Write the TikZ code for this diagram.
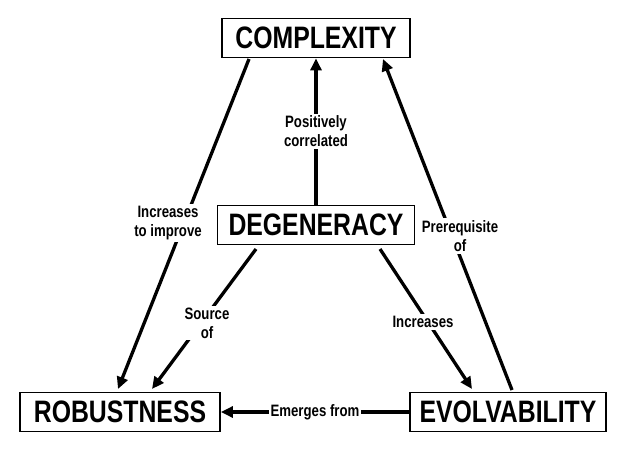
\documentclass[tikz,border=0pt]{standalone}
\usepackage{fontspec}
\newfontfamily\nar[FakeStretch=0.8]{Liberation Sans}
\usetikzlibrary{arrows.meta}
\begin{document}
\begin{tikzpicture}[x=1pt,y=-1pt,
 box/.style={draw,line width=1.8pt,fill=white,inner sep=0pt,minimum height=39pt,font=\nar\bfseries\fontsize{31}{33}\selectfont},
 lab/.style={font=\nar\bfseries\fontsize{16.5}{19}\selectfont,align=center,fill=white,inner sep=2pt},
 arr/.style={line width=3.3pt,-{Triangle[length=12pt,width=11pt]}}]
\useasboundingbox (0,0) rectangle (637,450);
\node[box,minimum width=188pt] (c) at (316,38) {COMPLEXITY};
\node[box,minimum width=197pt] (d) at (316,225) {DEGENERACY};
\node[box,minimum width=200pt] (r) at (120,412) {ROBUSTNESS};
\node[box,minimum width=196pt] (e) at (508,412) {EVOLVABILITY};
\coordinate (c1) at (249,59); \coordinate (r1) at (118,389);
\coordinate (c2) at (383,59); \coordinate (e2) at (512,390);
\coordinate (d3) at (256,249); \coordinate (r3) at (152,389);
\coordinate (d4) at (380,249); \coordinate (e4) at (472,389);
\draw[arr] (d) -- (c) node[lab,midway] {Positively\\correlated};
\draw[arr] (c1) -- (r1);
\node[lab] (l1) at (168,223) {Increases\\to improve};
\draw[arr] (e2) -- (c2);
\node[lab] (l2) at (460,236) {Prerequisite\\of};
\draw[arr] (d3) -- (r3);
\node[lab] (l3) at (207,323) {Source\\of};
\draw[arr] (d4) -- (e4);
\node[lab] (l4) at (423,322) {Increases};
\draw[arr] (e) -- (r) node[lab,midway] {Emerges from};
\end{tikzpicture}
\end{document}
